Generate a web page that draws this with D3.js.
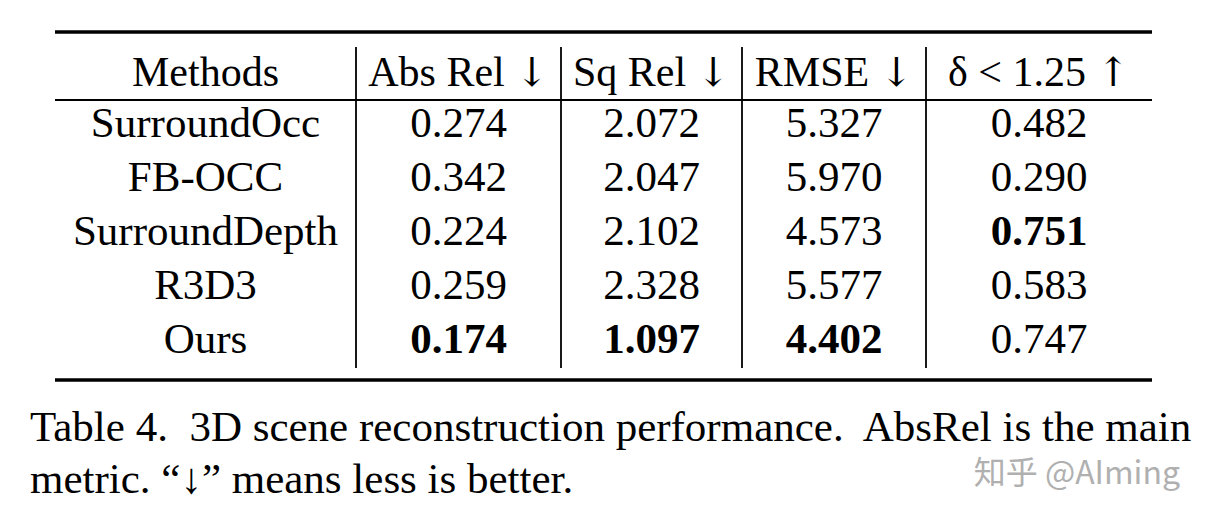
<!DOCTYPE html>
<html><head><meta charset="utf-8">
<script src="https://cdn.jsdelivr.net/npm/d3@7"></script>
<style>body{margin:0;background:#fff}svg{display:block}</style>
</head><body><svg id="c" width="1210" height="522"></svg>
<script>
const headers = [["Methods",""],["Abs Rel ","↓"],["Sq Rel ","↓"],["RMSE ","↓"],["δ < 1.25 ","↑"]];
const methods = ["SurroundOcc","FB-OCC","SurroundDepth","R3D3","Ours"];
const absRel = ["0.274","0.342","0.224","0.259","0.174"];
const sqRel = ["2.072","2.047","2.102","2.328","1.097"];
const rmse = ["5.327","5.970","4.573","5.577","4.402"];
const delta = ["0.482","0.290","0.751","0.583","0.747"];
const bestRow = {1:4,2:4,3:4,4:2};
const colWeights = [301,205,181,184,226];
const caption = ["Table 4.  3D scene reconstruction performance.  AbsRel is the main","metric. “↓” means less is better."];

const svg = d3.select("#c");
const font = "'Liberation Serif','Times New Roman',serif";
const total = d3.sum(colWeights);
const x = d3.scaleLinear().domain([0,total]).range([55,1152]);
const cum = [0]; colWeights.forEach(w=>cum.push(cum[cum.length-1]+w));
const y = d3.scaleBand().domain(methods.map((m,i)=>i)).range([96,366]);
const yc = r => y(r)+y.bandwidth()/2;

svg.append("line").attr("x1",x(0)).attr("x2",x(total)).attr("y1",32).attr("y2",32).attr("stroke","#000").attr("stroke-width",3.5);
svg.append("line").attr("x1",x(0)).attr("x2",x(total)).attr("y1",100).attr("y2",100).attr("stroke","#000").attr("stroke-width",1.8);
svg.append("line").attr("x1",x(0)).attr("x2",x(total)).attr("y1",380).attr("y2",380).attr("stroke","#000").attr("stroke-width",3.5);
for(let i=1;i<colWeights.length;i++){
  svg.append("line").attr("x1",x(cum[i])).attr("x2",x(cum[i])).attr("y1",47).attr("y2",368).attr("stroke","#000").attr("stroke-width",1.8);
}
const cols = [methods,absRel,sqRel,rmse,delta];
const cx = i => x((cum[i]+cum[i+1])/2);
headers.forEach((h,i)=>{
  const t = svg.append("text").attr("x",cx(i)).attr("y",86).attr("text-anchor","middle")
    .attr("font-family",font).attr("font-size",42).attr("xml:space","preserve");
  t.append("tspan").text(h[0]);
  if(h[1]) t.append("tspan").attr("font-family","'DejaVu Serif',serif").attr("font-size",40).attr("font-weight","200").text(h[1]);
});
cols.forEach((col,i)=>{
  col.forEach((v,r)=>{
    svg.append("text").attr("x",cx(i)).attr("y",yc(r)-1).attr("dy","0.35em").attr("text-anchor","middle")
      .attr("font-family",font).attr("font-size",43).attr("font-weight",bestRow[i]===r?"bold":"normal").text(v);
  });
});
caption.forEach((t,i)=>{
  svg.append("text").attr("x",30).attr("y",441+i*52).attr("font-family",font).attr("font-size",43).attr("xml:space","preserve").style("white-space","pre").text(t);
});
svg.append("text").attr("x",1180).attr("y",484).attr("text-anchor","end").attr("font-family","'Noto Sans CJK SC','Noto Sans',sans-serif")
  .attr("font-size",32).attr("fill","#b0b0b0").text("知乎 @AIming");
</script></body></html>
